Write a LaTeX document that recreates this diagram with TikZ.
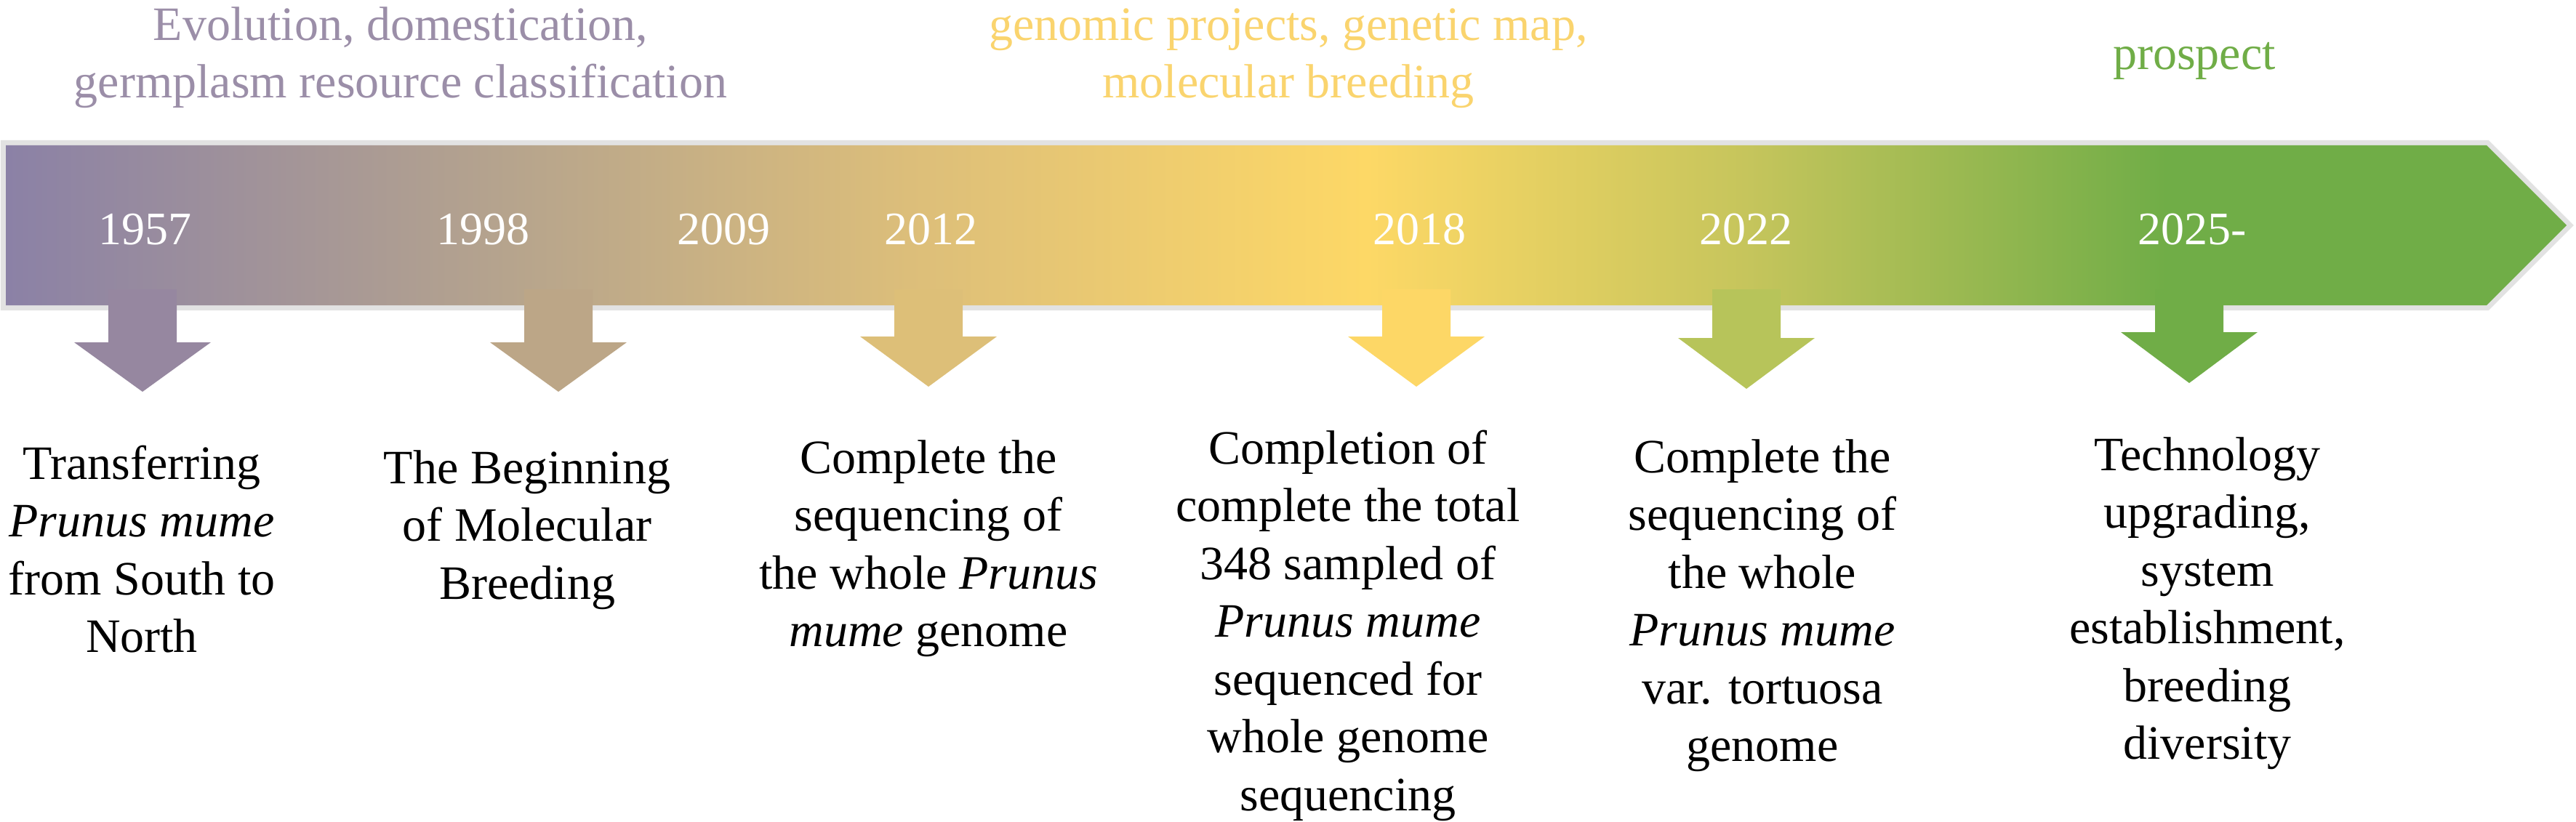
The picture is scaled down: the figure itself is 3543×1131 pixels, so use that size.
\documentclass[tikz,border=0pt]{standalone}
\usepackage{fontspec}
\setmainfont{Liberation Serif}
\definecolor{sA}{RGB}{139,129,166}
\definecolor{sB}{RGB}{182,164,141}
\definecolor{sC}{RGB}{220,190,122}
\definecolor{sD}{RGB}{253,216,102}
\definecolor{sE}{RGB}{198,197,92}
\definecolor{sF}{RGB}{112,173,71}
\definecolor{shadowgray}{RGB}{226,226,226}
\definecolor{arA}{RGB}{150,135,160}
\definecolor{arB}{RGB}{188,166,135}
\definecolor{arC}{RGB}{221,191,120}
\definecolor{arD}{RGB}{253,215,102}
\definecolor{arE}{RGB}{183,196,90}
\definecolor{arF}{RGB}{112,173,71}
\definecolor{tPurple}{RGB}{155,142,168}
\definecolor{tYellow}{RGB}{250,212,110}
\definecolor{tGreen}{RGB}{112,173,71}
\pgfdeclarehorizontalshading{bannershade}{100bp}{color(0bp)=(sA); color(25bp)=(sA); color(34.82bp)=(sB); color(42.63bp)=(sC); color(51.58bp)=(sD); color(58.96bp)=(sE); color(67.19bp)=(sF); color(100bp)=(sF)}
\newcommand\fstrut{\rule{0pt}{0.75em}}
% down arrow: centre x, head top y, tip y, colour
\newcommand\tlarrow[4]{%
  \fill[#4] (#1-47,398) -- (#1+47,398) -- (#1+47,#2) -- (#1+94,#2) -- (#1,#3) -- (#1-94,#2) -- (#1-47,#2) -- cycle;}
\begin{document}
\begin{tikzpicture}[x=0.2pt,y=-0.2pt,
  yr/.style={font=\fontsize{12.8}{15}\selectfont, text=white, anchor=base, inner sep=0pt},
  desc/.style={font=\fontsize{13.2}{15.9}\selectfont, align=center, anchor=north, inner sep=0pt},
  phase/.style={font=\fontsize{13.2}{15.8}\selectfont, align=center, inner sep=0pt}]
\useasboundingbox[fill=white] (0,0) rectangle (3543,1131);
% banner
\draw[shadowgray, line width=2.8pt, line join=miter] (8,200) -- (3420,200) -- (3530,310) -- (3420,420) -- (8,420) -- cycle;
\shade[shading=bannershade] (8,200) -- (3420,200) -- (3530,310) -- (3420,420) -- (8,420) -- cycle;
% arrows
\tlarrow{196}{471}{539}{arA}
\tlarrow{768}{471}{539}{arB}
\tlarrow{1277}{463}{532}{arC}
\tlarrow{1948}{463}{532}{arD}
\tlarrow{2402}{465}{535}{arE}
\tlarrow{3011}{457}{527}{arF}
% phase labels
\node[phase, anchor=north, text=tPurple] (phA) at (551,5.5) {\fstrut Evolution, domestication,\\germplasm resource classification};
\node[phase, anchor=north, text=tYellow] (phB) at (1772,5.5) {\fstrut genomic projects, genetic map,\\molecular breeding};
\node[phase, anchor=base, text=tGreen] (phC) at (3018,96) {prospect};
% years
\node[yr] (y1957) at (199,336) {1957};
\node[yr] (y1998) at (664,336) {1998};
\node[yr] (y2009) at (995,336) {2009};
\node[yr] (y2012) at (1280,336) {2012};
\node[yr] (y2018) at (1952,336) {2018};
\node[yr] (y2022) at (2401,336) {2022};
\node[yr] (y2025) at (3015,336) {2025-};
% descriptions
\node[desc] (d1957) at (195,608.5) {\fstrut Transferring\\\textit{Prunus mume}\\from South to\\North};
\node[desc] (d1998) at (725,614.5) {\fstrut The Beginning\\of Molecular\\Breeding};
\node[desc] (d2012) at (1277,600.5) {\fstrut Complete the\\sequencing of\\the whole \textit{Prunus}\\\textit{mume} genome};
\node[desc] (d2018) at (1854,587.5) {\fstrut Completion of\\complete the total\\348 sampled of\\\textit{Prunus mume}\\sequenced for\\whole genome\\sequencing};
\node[desc] (d2022) at (2424,599.5) {\fstrut Complete the\\sequencing of\\the whole\\\textit{Prunus mume}\\var. tortuosa\\genome};
\node[desc] (d2025) at (3036,596.5) {\fstrut Technology\\upgrading,\\system\\establishment,\\breeding\\diversity};
\end{tikzpicture}
\end{document}
